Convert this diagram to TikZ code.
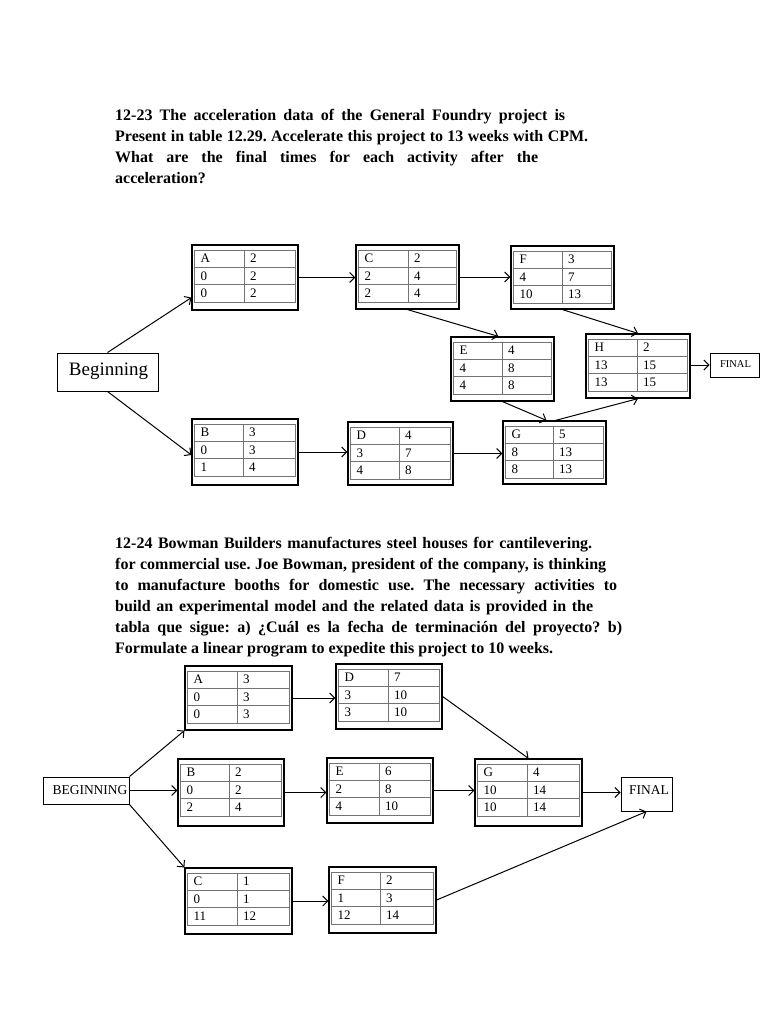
\documentclass[tikz,border=0pt]{standalone}
\usepackage{fontspec}
\setmainfont{Liberation Serif}
\frenchspacing
\usetikzlibrary{arrows.meta,calc}
\tikzset{
  actout/.style={draw=black, line width=1.2pt, inner sep=0pt, fill=white},
  gridln/.style={draw=black!55, line width=0.9pt},
  celltxt/.style={anchor=west, inner sep=0pt, font=\fontsize{13}{15}\selectfont},
  arr/.style={line width=1pt, -{Straight Barb[length=5pt,width=10pt,line width=1pt]}},
  para/.style={anchor=base west, inner sep=0pt, font=\fontsize{16}{21}\selectfont\bfseries\frenchspacing},
  plainbox/.style={draw, line width=1pt, inner sep=0pt},
  lbl/.style={inner sep=0pt}
}
\newcommand\actbox[7]{%
  \node[actout, minimum width={#4-#2}, minimum height={#5-#3}] (#1) at ({(#2+#4)/2},{(#3+#5)/2}) {};
  \pgfmathsetmacro\xa{#2+2.5}\pgfmathsetmacro\xb{#4-2.5}%
  \pgfmathsetmacro\ya{#3+5}\pgfmathsetmacro\yb{#3+57}%
  \draw[gridln] (\xa,\ya) rectangle (\xb,\yb);
  \draw[gridln] (#6,\ya) -- (#6,\yb);
  \draw[gridln] (\xa,{\ya+17.33}) -- (\xb,{\ya+17.33});
  \draw[gridln] (\xa,{\ya+34.67}) -- (\xb,{\ya+34.67});
  \foreach \l/\r [count=\i] in {#7} {
    \node[celltxt] (#1-l\i) at ({\xa+6},{\ya+17.33*\i-8.67}) {\l};
    \node[celltxt] (#1-r\i) at ({#6+6},{\ya+17.33*\i-8.67}) {\r};
  }
}
\begin{document}
\begin{tikzpicture}[x=1pt,y=-1pt]
\useasboundingbox[fill=white] (0,0) rectangle (768,1024);

% ---- Problem 12-23 text
\node[para] (p1a) at (115,120.5) {\makebox[450pt][s]{12-23 The acceleration data of the General Foundry project is}};
\node[para] (p1b) at (115,141.5) {\makebox[473pt][s]{Present in table 12.29. Accelerate this project to 13 weeks with CPM.}};
\node[para] (p1c) at (115,162.5) {\makebox[423pt][s]{What are the final times for each activity after the}};
\node[para] (p1d) at (115,183.5) {acceleration?};

% ---- Diagram 1
\node[plainbox, minimum width=101, minimum height=38] (Beg) at (107.5,372) {};
\node[lbl, font=\fontsize{19}{21}\selectfont] (Begt) at (108.5,371) {Beginning};
\actbox{A}{192}{245}{298}{310}{244}{A/2,0/2,0/2}
\actbox{C}{356}{245}{459}{309}{408}{C/2,2/4,2/4}
\actbox{F}{511}{246}{614}{309}{562}{F/3,4/7,10/13}
\actbox{E}{451}{337}{554}{401}{502}{E/4,4/8,4/8}
\actbox{H}{586}{334}{690}{398}{637}{H/2,13/15,13/15}
\actbox{B}{192}{419}{298}{485}{243}{B/3,0/3,1/4}
\actbox{D}{348}{422}{453}{485}{399}{D/4,3/7,4/8}
\actbox{G}{503}{421}{606}{484}{553}{G/5,8/13,8/13}
\node[plainbox, minimum width=49, minimum height=24] (Fin1) at (734.5,365) {};
\node[lbl, font=\fontsize{10.5}{12}\selectfont] (Fin1t) at (735.5,364) {FINAL};

\draw[arr] (Beg.north) -- ([yshift=13pt]A.south west);
\draw[arr] (Beg.south) -- ([yshift=-3pt]B.west);
\draw[arr] (A.east) -- (A.east -| C.west);
\draw[arr] (C.east) -- (C.east -| F.west);
\draw[arr] (C.south) -- ([xshift=-4pt]E.north);
\draw[arr] (F.south) -- (H.north);
\draw[arr] (Fin1.west -| H.east) -- (Fin1.west);
\draw[arr] (E.south) -- ([xshift=-8pt]G.north);
\draw[arr] ([xshift=1pt]G.north) -- (H.south);
\draw[arr] (B.east) -- (B.east -| D.west);
\draw[arr] (D.east) -- (D.east -| G.west);

% ---- Problem 12-24 text
\node[para] (p2a) at (115,548) {\makebox[477pt][s]{12-24 Bowman Builders manufactures steel houses for cantilevering.}};
\node[para] (p2b) at (115,569) {\makebox[491pt][s]{for commercial use. Joe Bowman, president of the company, is thinking}};
\node[para] (p2c) at (115,590) {\makebox[502pt][s]{to manufacture booths for domestic use. The necessary activities to}};
\node[para] (p2d) at (115,611) {\makebox[478pt][s]{build an experimental model and the related data is provided in the}};
\node[para] (p2e) at (115,632) {\makebox[507pt][s]{tabla que sigue: a) ¿Cuál es la fecha de terminación del proyecto? b)}};
\node[para] (p2f) at (115,653) {Formulate a linear program to expedite this project to 10 weeks.};

% ---- Diagram 2
\node[plainbox, minimum width=86, minimum height=27] (Beg2) at (86,790.5) {};
\node[lbl, font=\fontsize{13.5}{15}\selectfont] (Beg2t) at (90,790) {BEGINNING};
\actbox{A2}{185}{666}{292}{730}{237}{A/3,0/3,0/3}
\actbox{D2}{336}{664}{442}{729}{388}{D/7,3/10,3/10}
\actbox{B2}{178}{759}{284}{826}{229}{B/2,0/2,2/4}
\actbox{E2}{327}{758}{433}{823}{379}{E/6,2/8,4/10}
\actbox{G2}{475}{759}{582}{826}{527}{G/4,10/14,10/14}
\actbox{C2}{185}{868}{292}{934}{237}{C/1,0/1,11/12}
\actbox{F2}{329}{867}{436}{933}{380}{F/2,1/3,12/14}
\node[plainbox, minimum width=51, minimum height=34] (Fin2) at (646.5,794) {};
\node[lbl, font=\fontsize{13.5}{15}\selectfont] (Fin2t) at (649,790) {FINAL};

\draw[arr] (Beg2.north east) -- (A2.south west);
\draw[arr] (Beg2.east) -- (Beg2.east -| B2.west);
\draw[arr] (Beg2.south east) -- (C2.north west);
\draw[arr] (A2.east) -- (A2.east -| D2.west);
\draw[arr] (D2.east) -- (G2.north);
\draw[arr] (B2.east) -- (B2.east -| E2.west);
\draw[arr] (E2.east) -- (E2.east -| G2.west);
\draw[arr] (G2.east) -- (G2.east -| Fin2.west);
\draw[arr] (C2.east) -- (C2.east -| F2.west);
\draw[arr] (F2.east) -- (Fin2.south);
\end{tikzpicture}
\end{document}
